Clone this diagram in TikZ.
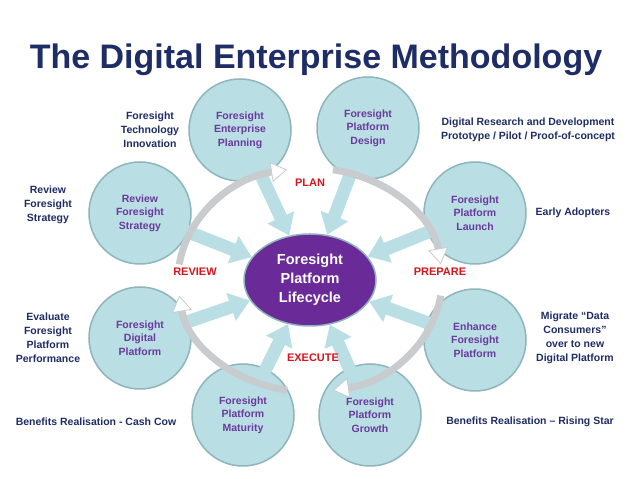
\documentclass[tikz,border=0pt]{standalone}
\usepackage{fontspec}
\setmainfont{Liberation Sans}
\usetikzlibrary{arrows.meta,shapes.geometric}
\definecolor{navy}{HTML}{1F2D66}
\definecolor{cfill}{HTML}{B9DEE4}
\definecolor{cline}{HTML}{8FB5BC}
\definecolor{ptxt}{HTML}{6A3A9C}
\definecolor{ctr}{HTML}{6A2A98}
\definecolor{redl}{HTML}{D8141C}
\definecolor{arcg}{HTML}{C8CCCE}
\begin{document}
\begin{tikzpicture}[x=1pt,y=1pt,
  circ/.style={circle,draw=cline,line width=1.5pt,fill=cfill,minimum size=102pt,inner sep=0pt,align=center,text=ptxt,font=\bfseries\fontsize{10.5}{13.5}\selectfont},
  outer/.style={align=center,text=navy,font=\bfseries\fontsize{10.5}{14}\selectfont},
  blk/.style={line width=13pt,cfill,-{Triangle[width=28pt,length=20pt]},shorten <=-6pt},
  garc/.style={line width=7pt,arcg,-{Triangle[width=20pt,length=16pt,fill=white,line width=0.8pt]}},
  lab/.style={text=redl,font=\bfseries\fontsize{11}{13}\selectfont}]
\useasboundingbox (0,0) rectangle (638,479);
\fill[white] (0,0) rectangle (638,479);
\node[text=navy,font=\bfseries\fontsize{34}{38}\selectfont] (title) at (316,419) {The Digital Enterprise Methodology};
\node[circ] (pl) at (240,349) {Foresight\\Enterprise\\Planning};
\node[circ] (de) at (368,351) {Foresight\\Platform\\Design};
\node[circ] (la) at (475,266) {Foresight\\Platform\\Launch};
\node[circ] (en) at (475,139) {Enhance\\Foresight\\Platform};
\node[circ] (gr) at (370,64) {Foresight\\Platform\\Growth};
\node[circ] (ma) at (243,64) {Foresight\\Platform\\Maturity};
\node[circ] (di) at (140,141) {Foresight\\Digital\\Platform};
\node[circ] (re) at (140,266) {Review\\Foresight\\Strategy};
\node[ellipse,draw=cline,line width=1.5pt,fill=ctr,minimum width=132pt,minimum height=92pt,align=center,text=white,font=\bfseries\fontsize{14.5}{19}\selectfont] (c) at (310,199) {Foresight\\Platform\\Lifecycle};
\foreach \n in {pl,de,la,en,gr,ma,di,re}{\draw[blk] (\n) -- (c);}
\coordinate (o) at (310,199);
\draw[garc] ([shift={(172:132 and 112)}]o) arc[start angle=172,end angle=100,x radius=132,y radius=112];
\draw[garc] ([shift={(80:132 and 112)}]o) arc[start angle=80,end angle=8,x radius=132,y radius=112];
\draw[garc] ([shift={(-8:132 and 112)}]o) arc[start angle=-8,end angle=-80,x radius=132,y radius=112];
\draw[garc] ([shift={(-100:132 and 112)}]o) arc[start angle=-100,end angle=-172,x radius=132,y radius=112];
\node[lab] (plan) at (310,296) {PLAN};
\node[lab] (prep) at (440,207) {PREPARE};
\node[lab] (exe) at (313,121) {EXECUTE};
\node[lab] (rev) at (195,207) {REVIEW};
\node[outer] (o1) at (150,349) {Foresight\\Technology\\Innovation};
\node[outer] (o2) at (528,349) {Digital Research and Development\\Prototype / Pilot / Proof-of-concept};
\node[outer] (o3) at (48,274) {Review\\Foresight\\Strategy};
\node[outer] (o4) at (573,266) {Early Adopters};
\node[outer] (o5) at (48,141) {Evaluate\\Foresight\\Platform\\Performance};
\node[outer] (o6) at (575,141) {Migrate “Data\\Consumers”\\over to new\\Digital Platform};
\node[outer] (o7) at (96,57) {Benefits Realisation - Cash Cow};
\node[outer] (o8) at (530,57) {Benefits Realisation – Rising Star};
\end{tikzpicture}
\end{document}
